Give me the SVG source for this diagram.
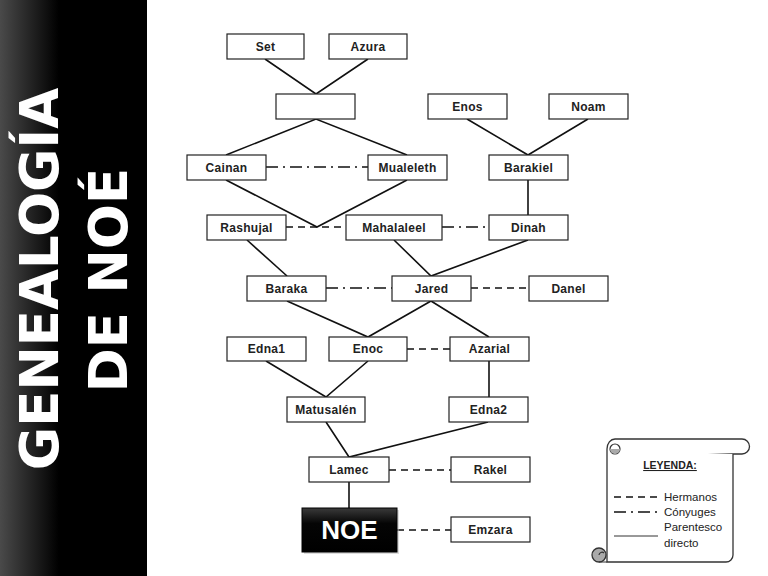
<svg xmlns="http://www.w3.org/2000/svg" width="768" height="576" viewBox="0 0 768 576">
<defs>
<linearGradient id="side" x1="0" y1="0" x2="1" y2="0">
<stop offset="0" stop-color="#4a4a4a"/>
<stop offset="0.4" stop-color="#000"/>
<stop offset="1" stop-color="#000"/>
</linearGradient>
<linearGradient id="noe" x1="0" y1="0" x2="0" y2="1">
<stop offset="0" stop-color="#3a3a3a"/>
<stop offset="0.35" stop-color="#050505"/>
<stop offset="1" stop-color="#000"/>
</linearGradient>
<style>
.box{fill:#fff;stroke:#222;stroke-width:1.2}
.lbl{font-family:"Liberation Sans",Arial,sans-serif;font-weight:bold;font-size:12px;fill:#222;text-anchor:middle;letter-spacing:0.3px}
.solid{stroke:#111;stroke-width:1.6;fill:none}
.dash{stroke:#111;stroke-width:1.4;fill:none;stroke-dasharray:7 5}
.dashdot{stroke:#111;stroke-width:1.4;fill:none;stroke-dasharray:12 5 2 5}
.title{font-family:"DejaVu Sans",Verdana,sans-serif;font-weight:bold;font-size:53px;fill:#fff;text-anchor:middle}
.leg{font-family:"Liberation Sans",Arial,sans-serif;font-size:11.5px;fill:#222}
</style>
</defs>
<rect width="768" height="576" fill="#fff"/>
<g id="sidebar">
<rect x="0" y="0" width="147" height="576" fill="url(#side)"/>
<text class="title" transform="translate(58,279) rotate(-90)">GENEALOGÍA</text>
<text class="title" transform="translate(127,280) rotate(-90)">DE NOÉ</text>
</g>
<g id="connectors">
<polyline class="solid" points="265,59 316,94 368,59"/>
<polyline class="solid" points="226,155 316,119 407,155"/>
<polyline class="solid" points="226,180 317,227 407,180"/>
<polyline class="solid" points="467,119 528,155 588,119"/>
<line class="solid" x1="528" y1="180" x2="528" y2="215"/>
<line class="solid" x1="247" y1="240" x2="287" y2="276"/>
<polyline class="solid" points="394,240 431,276 528,240"/>
<polyline class="solid" points="287,301 368,337 431,301 489,337"/>
<polyline class="solid" points="266,361 326,397 368,361"/>
<line class="solid" x1="489" y1="361" x2="489" y2="397"/>
<polyline class="solid" points="326,422 349,457 488,422"/>
<line class="solid" x1="349" y1="482" x2="349" y2="508"/>
<line class="dashdot" x1="266" y1="167" x2="368" y2="167"/>
<line class="dash" x1="286" y1="227" x2="346" y2="227"/>
<line class="dashdot" x1="442" y1="227" x2="489" y2="227"/>
<line class="dashdot" x1="326" y1="288" x2="392" y2="288"/>
<line class="dash" x1="471" y1="288" x2="529" y2="288"/>
<line class="dash" x1="407" y1="349" x2="450" y2="349"/>
<line class="dash" x1="389" y1="470" x2="451" y2="470"/>
<line class="dash" x1="397" y1="530" x2="451" y2="530" stroke-width="2"/>
</g>
<g id="n-set"><rect class="box" x="227" y="34" width="77" height="25"/><text class="lbl" x="265.5" y="50.5">Set</text></g>
<g id="n-azura"><rect class="box" x="329" y="34" width="78" height="25"/><text class="lbl" x="368" y="50.5">Azura</text></g>
<g id="n-blank"><rect class="box" x="276" y="94" width="79" height="25"/></g>
<g id="n-enos"><rect class="box" x="428" y="94" width="79" height="25"/><text class="lbl" x="467.5" y="110.5">Enos</text></g>
<g id="n-noam"><rect class="box" x="549" y="94" width="79" height="25"/><text class="lbl" x="588.5" y="110.5">Noam</text></g>
<g id="n-cainan"><rect class="box" x="187" y="155" width="79" height="25"/><text class="lbl" x="226.5" y="171.5">Cainan</text></g>
<g id="n-mualeleth"><rect class="box" x="368" y="155" width="79" height="25"/><text class="lbl" x="407.5" y="171.5">Mualeleth</text></g>
<g id="n-barakiel"><rect class="box" x="489" y="155" width="79" height="25"/><text class="lbl" x="528.5" y="171.5">Barakiel</text></g>
<g id="n-rashujal"><rect class="box" x="207" y="215" width="79" height="25"/><text class="lbl" x="246.5" y="231.5">Rashujal</text></g>
<g id="n-mahalaleel"><rect class="box" x="346" y="215" width="96" height="25"/><text class="lbl" x="394" y="231.5">Mahalaleel</text></g>
<g id="n-dinah"><rect class="box" x="489" y="215" width="79" height="25"/><text class="lbl" x="528.5" y="231.5">Dinah</text></g>
<g id="n-baraka"><rect class="box" x="247" y="276" width="79" height="25"/><text class="lbl" x="286.5" y="292.5">Baraka</text></g>
<g id="n-jared"><rect class="box" x="392" y="276" width="79" height="25"/><text class="lbl" x="431.5" y="292.5">Jared</text></g>
<g id="n-danel"><rect class="box" x="529" y="276" width="79" height="25"/><text class="lbl" x="568.5" y="292.5">Danel</text></g>
<g id="n-edna1"><rect class="box" x="227" y="337" width="79" height="24"/><text class="lbl" x="266.5" y="353">Edna1</text></g>
<g id="n-enoc"><rect class="box" x="329" y="337" width="78" height="24"/><text class="lbl" x="368" y="353">Enoc</text></g>
<g id="n-azarial"><rect class="box" x="450" y="337" width="79" height="24"/><text class="lbl" x="489.5" y="353">Azarial</text></g>
<g id="n-matusalen"><rect class="box" x="287" y="397" width="78" height="25"/><text class="lbl" x="326" y="413.5">Matusalén</text></g>
<g id="n-edna2"><rect class="box" x="449" y="397" width="79" height="25"/><text class="lbl" x="488.5" y="413.5">Edna2</text></g>
<g id="n-lamec"><rect class="box" x="309" y="457" width="80" height="25"/><text class="lbl" x="349" y="473.5">Lamec</text></g>
<g id="n-rakel"><rect class="box" x="451" y="457" width="79" height="25"/><text class="lbl" x="490.5" y="473.5">Rakel</text></g>
<g id="n-noe"><rect x="304" y="510" width="95" height="44" fill="#bbb" opacity="0.5"/><rect x="302" y="508" width="95" height="44" fill="url(#noe)" stroke="#000"/><text x="349.5" y="539" font-family="'Liberation Sans',Arial,sans-serif" font-weight="bold" font-size="26" fill="#fff" text-anchor="middle">NOE</text></g>
<g id="n-emzara"><rect class="box" x="451" y="517" width="79" height="25"/><text class="lbl" x="490.5" y="533.5">Emzara</text></g>
<g id="legend">
<path d="M615,439 H742 A7.5,7.5 0 0 1 742,454 H618" fill="#fff" stroke="#333" stroke-width="1.3"/>
<path d="M607,449 V562 H726 A7,7 0 0 0 733,555 V454" fill="#fff" stroke="#333" stroke-width="1.3"/>
<path d="M607,449 A8,10 0 0 1 615,439" fill="none" stroke="#333" stroke-width="1.3"/>
<circle cx="615" cy="449" r="5" fill="#fff" stroke="#333" stroke-width="1.2"/>
<path d="M610,449 A5,5 0 0 0 620,449 Z" fill="#aaa"/>
<circle cx="599" cy="555" r="7" fill="#aaa" stroke="#333" stroke-width="1.3"/>
<path d="M599,562 H607 M599,555 A3,3 0 0 1 604,553" fill="none" stroke="#333" stroke-width="1.2"/>
<text x="670" y="469" font-family="'Liberation Sans',Arial,sans-serif" font-weight="bold" font-size="10.5" fill="#222" text-anchor="middle" text-decoration="underline">LEYENDA:</text>
<line class="dash" x1="614" y1="497" x2="657" y2="497" stroke-dasharray="6 4"/>
<text class="leg" x="664" y="501">Hermanos</text>
<line class="dashdot" x1="614" y1="512" x2="657" y2="512" stroke-dasharray="12 4 2 4"/>
<text class="leg" x="664" y="516">Cónyuges</text>
<line x1="614" y1="536" x2="658" y2="536" stroke="#333" stroke-width="1"/>
<text class="leg" x="664" y="531">Parentesco</text>
<text class="leg" x="664" y="547">directo</text>
</g>
</svg>
